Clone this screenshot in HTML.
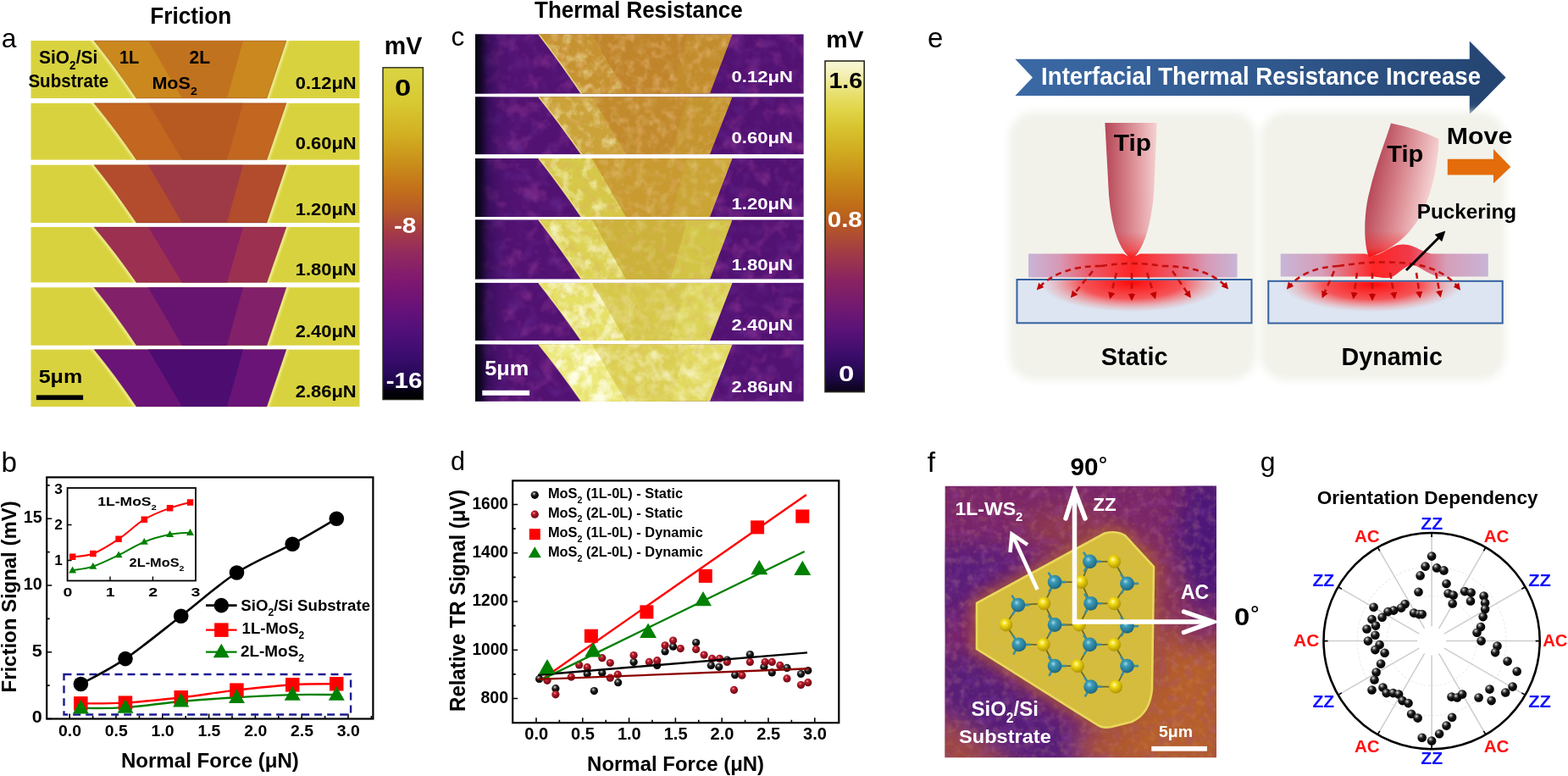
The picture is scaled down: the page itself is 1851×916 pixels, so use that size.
<!DOCTYPE html>
<html><head><meta charset="utf-8"><title>Figure</title>
<style>html,body{margin:0;padding:0;background:#fff;width:1851px;height:916px;overflow:hidden}svg{display:block}</style>
</head><body>
<svg width="1851" height="916" viewBox="0 0 1851 916" font-family="'Liberation Sans', Arial, sans-serif">
<defs>
<filter id="hblur" x="-10%" y="-10%" width="120%" height="120%"><feGaussianBlur stdDeviation="1.3"/></filter>
<clipPath id="ac0"><rect x="36.5" y="48" width="388.0" height="68"/></clipPath>
<clipPath id="ac1"><rect x="36.5" y="121.8" width="388.0" height="66.8"/></clipPath>
<clipPath id="ac2"><rect x="36.5" y="194.7" width="388.0" height="68.30000000000001"/></clipPath>
<clipPath id="ac3"><rect x="36.5" y="268" width="388.0" height="65.39999999999998"/></clipPath>
<clipPath id="ac4"><rect x="36.5" y="339.3" width="388.0" height="68.39999999999998"/></clipPath>
<clipPath id="ac5"><rect x="36.5" y="412.6" width="388.0" height="67.39999999999998"/></clipPath>
<linearGradient id="cba" x1="0" y1="0" x2="0" y2="1">
<stop offset="0" stop-color="#dad444"/><stop offset="0.10" stop-color="#d8ca32"/><stop offset="0.20" stop-color="#d2b022"/>
<stop offset="0.28" stop-color="#ca921a"/><stop offset="0.36" stop-color="#c4721a"/><stop offset="0.43" stop-color="#b85a28"/>
<stop offset="0.50" stop-color="#a43a48"/><stop offset="0.56" stop-color="#922a60"/><stop offset="0.64" stop-color="#801870"/>
<stop offset="0.715" stop-color="#6a1278"/><stop offset="0.79" stop-color="#52107a"/><stop offset="0.87" stop-color="#3a0c6e"/>
<stop offset="0.92" stop-color="#2a0a5a"/><stop offset="0.955" stop-color="#180640"/><stop offset="0.975" stop-color="#04020c"/>
<stop offset="1" stop-color="#000"/></linearGradient>
<linearGradient id="cleft" x1="0" y1="0" x2="1" y2="0">
<stop offset="0" stop-color="#06020e" stop-opacity="1"/><stop offset="0.02" stop-color="#0c0420" stop-opacity="0.85"/><stop offset="0.04" stop-color="#1a0840" stop-opacity="0.5"/><stop offset="0.08" stop-color="#2a0c58" stop-opacity="0.15"/><stop offset="0.13" stop-color="#3a1068" stop-opacity="0"/></linearGradient>
<filter id="nzY" x="0" y="0" width="1" height="1"><feTurbulence type="fractalNoise" baseFrequency="0.08" numOctaves="3" seed="4"/>
<feColorMatrix type="matrix" values="0 0 0 0 0.96  0 0 0 0 0.96  0 0 0 0 0.60  2.4 0 0 0 -1.15"/></filter>
<filter id="nzW" x="0" y="0" width="1" height="1"><feTurbulence type="fractalNoise" baseFrequency="0.06" numOctaves="3" seed="21"/>
<feColorMatrix type="matrix" values="0 0 0 0 0.99  0 0 0 0 0.99  0 0 0 0 0.80  3.5 0 0 0 -1.6"/></filter>
<filter id="nzO" x="0" y="0" width="1" height="1"><feTurbulence type="fractalNoise" baseFrequency="0.1" numOctaves="2" seed="9"/>
<feColorMatrix type="matrix" values="0 0 0 0 0.74  0 0 0 0 0.42  0 0 0 0 0.14  2.2 0 0 0 -1.05"/></filter>
<filter id="nzM" x="0" y="0" width="1" height="1"><feTurbulence type="fractalNoise" baseFrequency="0.05" numOctaves="3" seed="2"/>
<feColorMatrix type="matrix" values="0 0 0 0 0.50  0 0 0 0 0.08  0 0 0 0 0.40  1.6 0 0 0 -0.78"/></filter>
<filter id="nzD" x="0" y="0" width="1" height="1"><feTurbulence type="fractalNoise" baseFrequency="0.06" numOctaves="2" seed="13"/>
<feColorMatrix type="matrix" values="0 0 0 0 0.14  0 0 0 0 0.03  0 0 0 0 0.32  1.8 0 0 0 -0.85"/></filter>
<clipPath id="cm0"><path d="M636,40.5 Q660,71.5 686.4,110.5 L838,110.5 L864.5,40.5 Z"/></clipPath>
<clipPath id="cl0"><path d="M636,40.5 Q660,71.5 686.4,110.5 L739,110.5 L699,40.5 Z"/></clipPath>
<clipPath id="cs0"><rect x="561" y="40.5" width="387.6" height="70.0"/></clipPath>
<clipPath id="cm1"><path d="M636,114.4 Q660,144.25 686.4,182.1 L838,182.1 L864.5,114.4 Z"/></clipPath>
<clipPath id="cl1"><path d="M636,114.4 Q660,144.25 686.4,182.1 L739,182.1 L699,114.4 Z"/></clipPath>
<clipPath id="cs1"><rect x="561" y="114.4" width="387.6" height="67.69999999999999"/></clipPath>
<clipPath id="cm2"><path d="M636,187 Q660,217.5 686.4,256 L838,256 L864.5,187 Z"/></clipPath>
<clipPath id="cl2"><path d="M636,187 Q660,217.5 686.4,256 L739,256 L699,187 Z"/></clipPath>
<clipPath id="cs2"><rect x="561" y="187" width="387.6" height="69"/></clipPath>
<clipPath id="cm3"><path d="M636,259.5 Q660,290.45 686.4,329.4 L838,329.4 L864.5,259.5 Z"/></clipPath>
<clipPath id="cl3"><path d="M636,259.5 Q660,290.45 686.4,329.4 L739,329.4 L699,259.5 Z"/></clipPath>
<clipPath id="cs3"><rect x="561" y="259.5" width="387.6" height="69.89999999999998"/></clipPath>
<clipPath id="cm4"><path d="M636,333.9 Q660,363.95 686.4,402 L838,402 L864.5,333.9 Z"/></clipPath>
<clipPath id="cl4"><path d="M636,333.9 Q660,363.95 686.4,402 L739,402 L699,333.9 Z"/></clipPath>
<clipPath id="cs4"><rect x="561" y="333.9" width="387.6" height="68.10000000000002"/></clipPath>
<clipPath id="cm5"><path d="M636,406.6 Q660,436.15 686.4,473.7 L838,473.7 L864.5,406.6 Z"/></clipPath>
<clipPath id="cl5"><path d="M636,406.6 Q660,436.15 686.4,473.7 L739,473.7 L699,406.6 Z"/></clipPath>
<clipPath id="cs5"><rect x="561" y="406.6" width="387.6" height="67.09999999999997"/></clipPath>
<linearGradient id="cbc" x1="0" y1="0" x2="0" y2="1">
<stop offset="0" stop-color="#f8f6d8"/><stop offset="0.046" stop-color="#f2eeb0"/><stop offset="0.097" stop-color="#e8e070"/>
<stop offset="0.148" stop-color="#e0d448"/><stop offset="0.2" stop-color="#d8c430"/><stop offset="0.276" stop-color="#d0aa20"/>
<stop offset="0.353" stop-color="#c88c18"/><stop offset="0.43" stop-color="#c07018"/><stop offset="0.486" stop-color="#b85a20"/>
<stop offset="0.52" stop-color="#b05030"/><stop offset="0.584" stop-color="#a03a48"/><stop offset="0.66" stop-color="#8a2460"/>
<stop offset="0.737" stop-color="#741a70"/><stop offset="0.814" stop-color="#5a1278"/><stop offset="0.891" stop-color="#3a0c6a"/>
<stop offset="0.955" stop-color="#1e0848"/><stop offset="1" stop-color="#0a0418"/></linearGradient>
<linearGradient id="ban" x1="0" y1="0" x2="1" y2="0">
<stop offset="0" stop-color="#3b69a5"/><stop offset="0.5" stop-color="#31598e"/><stop offset="1" stop-color="#244470"/></linearGradient>
<filter id="soft" x="-10%" y="-10%" width="120%" height="120%"><feGaussianBlur stdDeviation="5"/></filter>
<linearGradient id="tipH" x1="0" y1="0" x2="1" y2="0">
<stop offset="0" stop-color="#b54656"/><stop offset="0.5" stop-color="#d98a92"/><stop offset="1" stop-color="#f5d2d2"/></linearGradient>
<linearGradient id="tipV" x1="0" y1="0" x2="0" y2="1">
<stop offset="0" stop-color="#ff1010" stop-opacity="0"/><stop offset="0.8" stop-color="#ff1010" stop-opacity="0.03"/><stop offset="0.93" stop-color="#ff1010" stop-opacity="0.45"/><stop offset="1" stop-color="#ff0000" stop-opacity="0.9"/></linearGradient>
<linearGradient id="tipH2" gradientUnits="userSpaceOnUse" x1="1620" y1="200" x2="1690" y2="215">
<stop offset="0" stop-color="#b54656"/><stop offset="0.5" stop-color="#d98a92"/><stop offset="1" stop-color="#f5d2d2"/></linearGradient>
<linearGradient id="slab" x1="0" y1="0" x2="1" y2="0">
<stop offset="0" stop-color="#c6b2d6"/><stop offset="0.15" stop-color="#d694b2"/><stop offset="0.3" stop-color="#ec5262"/><stop offset="0.5" stop-color="#ff1818"/><stop offset="0.7" stop-color="#ec5262"/><stop offset="0.85" stop-color="#d694b2"/><stop offset="1" stop-color="#c6b2d6"/></linearGradient>
<linearGradient id="slab2" x1="0" y1="0" x2="1" y2="0">
<stop offset="0" stop-color="#c6b2d6"/><stop offset="0.2" stop-color="#d49ab6"/><stop offset="0.45" stop-color="#ff1a1a"/><stop offset="0.62" stop-color="#f03040"/><stop offset="0.8" stop-color="#d49ab6"/><stop offset="1" stop-color="#c6b2d6"/></linearGradient>
<radialGradient id="glow" cx="0.5" cy="0.5" r="0.5">
<stop offset="0" stop-color="#ff0000" stop-opacity="0.95"/><stop offset="0.55" stop-color="#ff1c1c" stop-opacity="0.72"/><stop offset="0.85" stop-color="#ff4040" stop-opacity="0.22"/><stop offset="1" stop-color="#ff4040" stop-opacity="0"/></radialGradient>
<marker id="ah" viewBox="0 0 10 10" refX="6" refY="5" markerWidth="3.2" markerHeight="3.2" orient="auto"><path d="M0,0 L10,5 L0,10 Z" fill="#c00000"/></marker>
<marker id="ahk" viewBox="0 0 10 10" refX="6" refY="5" markerWidth="4" markerHeight="4" orient="auto"><path d="M0,0 L10,5 L0,10 Z" fill="#000"/></marker>
<clipPath id="subS"><rect x="1200.5" y="331" width="277" height="50"/></clipPath><clipPath id="subD"><rect x="1497.3" y="332.8" width="276.4" height="48.7"/></clipPath>
<radialGradient id="sb" cx="0.4" cy="0.33" r="0.7"><stop offset="0" stop-color="#f0f0f0"/><stop offset="0.2" stop-color="#666"/><stop offset="0.45" stop-color="#151515"/><stop offset="1" stop-color="#000"/></radialGradient>
<radialGradient id="sr" cx="0.4" cy="0.33" r="0.7"><stop offset="0" stop-color="#ffb4bc"/><stop offset="0.22" stop-color="#c42634"/><stop offset="0.55" stop-color="#961220"/><stop offset="1" stop-color="#620810"/></radialGradient>
<clipPath id="fclip"><rect x="1115.4" y="573.6" width="320.5999999999999" height="320.6"/></clipPath>
<filter id="fblur" x="-20%" y="-20%" width="140%" height="140%"><feGaussianBlur stdDeviation="14"/></filter>
<filter id="fblur2" x="-20%" y="-20%" width="140%" height="140%"><feGaussianBlur stdDeviation="7"/></filter>
<filter id="fnz" x="0" y="0" width="1" height="1"><feTurbulence type="fractalNoise" baseFrequency="0.09" numOctaves="3" seed="5"/>
<feColorMatrix type="matrix" values="0 0 0 0 0.35  0 0 0 0 0.08  0 0 0 0 0.45  1.8 0 0 0 -0.8"/></filter>
<filter id="fnz2" x="0" y="0" width="1" height="1"><feTurbulence type="fractalNoise" baseFrequency="0.12" numOctaves="2" seed="8"/>
<feColorMatrix type="matrix" values="0 0 0 0 0.75  0 0 0 0 0.38  0 0 0 0 0.2  1.6 0 0 0 -0.75"/></filter>
<filter id="fnz3" x="0" y="0" width="1" height="1"><feTurbulence type="fractalNoise" baseFrequency="0.1" numOctaves="3" seed="15"/>
<feColorMatrix type="matrix" values="0 0 0 0 0.62  0 0 0 0 0.52  0 0 0 0 0.12  2.0 0 0 0 -0.95"/></filter>
<clipPath id="flclip"><path d="M1153,712 L1304,629.5 Q1318,626 1328,632 L1362,669 L1360,812 Q1358,842 1336,852 L1312,858 Q1302,860 1296,856 L1153,766 Z"/></clipPath>
<radialGradient id="ab" cx="0.4" cy="0.35" r="0.65"><stop offset="0" stop-color="#9fd8e8"/><stop offset="0.3" stop-color="#3c9cb8"/><stop offset="1" stop-color="#1e6680"/></radialGradient>
<radialGradient id="ay" cx="0.4" cy="0.35" r="0.65"><stop offset="0" stop-color="#fffcc8"/><stop offset="0.3" stop-color="#f6de18"/><stop offset="1" stop-color="#b09400"/></radialGradient>
<radialGradient id="sg" cx="0.36" cy="0.3" r="0.72"><stop offset="0" stop-color="#f4f4f4"/><stop offset="0.18" stop-color="#777"/><stop offset="0.45" stop-color="#151515"/><stop offset="1" stop-color="#000"/></radialGradient>
</defs>
<rect width="1851" height="916" fill="#fff"/>
<rect x="36.5" y="48" width="388.0" height="68" fill="#d9d23f"/>
<path d="M111,48 Q137,80.0 161,116 L315,116 L338,48 Z" fill="none" stroke="#f6f4a0" stroke-width="6" stroke-opacity="0.75" filter="url(#hblur)" clip-path="url(#ac0)"/>
<path d="M111,48 Q137,80.0 161,116 L315,116 L338,48 Z" fill="#ca881e" stroke="#6a1020" stroke-width="0.8" stroke-opacity="0.35"/>
<path d="M175,48 L215,116 L268,116 L287,48 Z" fill="#c1721e"/>
<rect x="36.5" y="121.8" width="388.0" height="66.8" fill="#d9d23f"/>
<path d="M111,121.8 Q137,153.2 161,188.6 L315,188.6 L338,121.8 Z" fill="none" stroke="#f6f4a0" stroke-width="6" stroke-opacity="0.75" filter="url(#hblur)" clip-path="url(#ac1)"/>
<path d="M111,121.8 Q137,153.2 161,188.6 L315,188.6 L338,121.8 Z" fill="#c26620" stroke="#6a1020" stroke-width="0.8" stroke-opacity="0.35"/>
<path d="M175,121.8 L215,188.6 L268,188.6 L287,121.8 Z" fill="#b65a22"/>
<rect x="36.5" y="194.7" width="388.0" height="68.30000000000001" fill="#d9d23f"/>
<path d="M111,194.7 Q137,226.85 161,263 L315,263 L338,194.7 Z" fill="none" stroke="#f6f4a0" stroke-width="6" stroke-opacity="0.75" filter="url(#hblur)" clip-path="url(#ac2)"/>
<path d="M111,194.7 Q137,226.85 161,263 L315,263 L338,194.7 Z" fill="#b24c2c" stroke="#6a1020" stroke-width="0.8" stroke-opacity="0.35"/>
<path d="M175,194.7 L215,263 L268,263 L287,194.7 Z" fill="#9e3a46"/>
<rect x="36.5" y="268" width="388.0" height="65.39999999999998" fill="#d9d23f"/>
<path d="M111,268 Q137,298.7 161,333.4 L315,333.4 L338,268 Z" fill="none" stroke="#f6f4a0" stroke-width="6" stroke-opacity="0.75" filter="url(#hblur)" clip-path="url(#ac3)"/>
<path d="M111,268 Q137,298.7 161,333.4 L315,333.4 L338,268 Z" fill="#9c3050" stroke="#6a1020" stroke-width="0.8" stroke-opacity="0.35"/>
<path d="M175,268 L215,333.4 L268,333.4 L287,268 Z" fill="#862062"/>
<rect x="36.5" y="339.3" width="388.0" height="68.39999999999998" fill="#d9d23f"/>
<path d="M111,339.3 Q137,371.5 161,407.7 L315,407.7 L338,339.3 Z" fill="none" stroke="#f6f4a0" stroke-width="6" stroke-opacity="0.75" filter="url(#hblur)" clip-path="url(#ac4)"/>
<path d="M111,339.3 Q137,371.5 161,407.7 L315,407.7 L338,339.3 Z" fill="#82206a" stroke="#6a1020" stroke-width="0.8" stroke-opacity="0.35"/>
<path d="M175,339.3 L215,407.7 L268,407.7 L287,339.3 Z" fill="#661470"/>
<rect x="36.5" y="412.6" width="388.0" height="67.39999999999998" fill="#d9d23f"/>
<path d="M111,412.6 Q137,444.3 161,480 L315,480 L338,412.6 Z" fill="none" stroke="#f6f4a0" stroke-width="6" stroke-opacity="0.75" filter="url(#hblur)" clip-path="url(#ac5)"/>
<path d="M111,412.6 Q137,444.3 161,480 L315,480 L338,412.6 Z" fill="#6a1478" stroke="#6a1020" stroke-width="0.8" stroke-opacity="0.35"/>
<path d="M175,412.6 L215,480 L268,480 L287,412.6 Z" fill="#4c0c70"/>
<text x="348.8" y="105.1" font-size="20.7" font-weight="bold" fill="#000" text-anchor="start" textLength="71.9" lengthAdjust="spacingAndGlyphs">0.12μN</text>
<text x="348.8" y="176.4" font-size="20.7" font-weight="bold" fill="#000" text-anchor="start" textLength="71.9" lengthAdjust="spacingAndGlyphs">0.60μN</text>
<text x="348.8" y="254.1" font-size="20.7" font-weight="bold" fill="#000" text-anchor="start" textLength="71.9" lengthAdjust="spacingAndGlyphs">1.20μN</text>
<text x="348.8" y="325.2" font-size="20.7" font-weight="bold" fill="#000" text-anchor="start" textLength="71.9" lengthAdjust="spacingAndGlyphs">1.80μN</text>
<text x="348.8" y="397.9" font-size="20.7" font-weight="bold" fill="#000" text-anchor="start" textLength="71.9" lengthAdjust="spacingAndGlyphs">2.40μN</text>
<text x="348.8" y="469.4" font-size="20.7" font-weight="bold" fill="#000" text-anchor="start" textLength="71.9" lengthAdjust="spacingAndGlyphs">2.86μN</text>
<text x="46.1" y="75.0" font-size="21.6" font-weight="bold" fill="#000" text-anchor="start" textLength="69.1" lengthAdjust="spacingAndGlyphs">SiO<tspan font-size="14.0" dy="7.1">2</tspan><tspan dy="-7.1">/Si</tspan></text>
<text x="33.4" y="102.9" font-size="21.3" font-weight="bold" fill="#000" text-anchor="start" textLength="94.9" lengthAdjust="spacingAndGlyphs">Substrate</text>
<text x="141.0" y="75.2" font-size="21.2" font-weight="bold" fill="#000" text-anchor="start" textLength="23.3" lengthAdjust="spacingAndGlyphs">1L</text>
<text x="223.6" y="75.2" font-size="21.2" font-weight="bold" fill="#000" text-anchor="start" textLength="24.5" lengthAdjust="spacingAndGlyphs">2L</text>
<text x="179.4" y="105.4" font-size="20.6" font-weight="bold" fill="#000" text-anchor="start" textLength="53.4" lengthAdjust="spacingAndGlyphs">MoS<tspan font-size="13.4" dy="6.8">2</tspan></text>
<text x="45.7" y="451.7" font-size="22.5" font-weight="bold" fill="#000" text-anchor="start" textLength="51.5" lengthAdjust="spacingAndGlyphs">5μm</text>
<rect x="42.9" y="466.4" width="55.2" height="5.7" fill="#000"/>
<text x="177.3" y="28.2" font-size="26.8" font-weight="bold" fill="#000" text-anchor="start" textLength="95.9" lengthAdjust="spacingAndGlyphs">Friction</text>
<text x="1.8" y="55.5" font-size="31.8" font-weight="normal" fill="#000">a</text>
<rect x="452" y="79.8" width="47.4" height="391.8" fill="url(#cba)" stroke="#2a2a1a" stroke-width="1.4"/>
<text x="453.8" y="64.0" font-size="28.6" font-weight="bold" fill="#000" text-anchor="start" textLength="44.5" lengthAdjust="spacingAndGlyphs">mV</text>
<text x="466.1" y="112.7" font-size="27.1" font-weight="bold" fill="#000" text-anchor="start" textLength="19.3" lengthAdjust="spacingAndGlyphs">0</text>
<text x="464.9" y="275.4" font-size="26.4" font-weight="bold" fill="#fff" text-anchor="start" textLength="26.5" lengthAdjust="spacingAndGlyphs">-8</text>
<text x="455.7" y="457.6" font-size="26.5" font-weight="bold" fill="#fff" text-anchor="start" textLength="42.8" lengthAdjust="spacingAndGlyphs">-16</text>
<rect x="561" y="40.5" width="387.6" height="70.0" fill="#521272"/>
<g clip-path="url(#cs0)"><rect x="561" y="40.5" width="387.6" height="70.0" filter="url(#nzM)" opacity="0.65"/><rect x="561" y="40.5" width="387.6" height="70.0" filter="url(#nzD)" opacity="0.6"/></g>
<rect x="561" y="40.5" width="387.6" height="70.0" fill="url(#cleft)"/>
<path d="M636,40.5 Q660,71.5 686.4,110.5 L838,110.5 L864.5,40.5 Z" fill="#c28c2c"/>
<path d="M636,40.5 Q660,71.5 686.4,110.5 L739,110.5 L699,40.5 Z" fill="#c69230"/>
<path d="M699,40.5 L739,110.5 L792,110.5 L811,40.5 Z" fill="#c0842a"/>
<g clip-path="url(#cm0)"><rect x="630" y="40.5" width="240" height="70.0" filter="url(#nzO)" opacity="0.90"/><rect x="630" y="40.5" width="240" height="70.0" filter="url(#nzY)" opacity="0.15"/></g>
<g clip-path="url(#cl0)"><rect x="630" y="40.5" width="120" height="70.0" filter="url(#nzY)" opacity="0.45"/></g>
<path d="M636,40.5 Q660,71.5 686.4,110.5" fill="none" stroke="#f4ec90" stroke-width="1.6" opacity="0.8"/>
<rect x="561" y="114.4" width="387.6" height="67.69999999999999" fill="#521272"/>
<g clip-path="url(#cs1)"><rect x="561" y="114.4" width="387.6" height="67.69999999999999" filter="url(#nzM)" opacity="0.65"/><rect x="561" y="114.4" width="387.6" height="67.69999999999999" filter="url(#nzD)" opacity="0.6"/></g>
<rect x="561" y="114.4" width="387.6" height="67.69999999999999" fill="url(#cleft)"/>
<path d="M636,114.4 Q660,144.25 686.4,182.1 L838,182.1 L864.5,114.4 Z" fill="#c4942e"/>
<path d="M636,114.4 Q660,144.25 686.4,182.1 L739,182.1 L699,114.4 Z" fill="#caa238"/>
<path d="M699,114.4 L739,182.1 L792,182.1 L811,114.4 Z" fill="#c28a2c"/>
<g clip-path="url(#cm1)"><rect x="630" y="114.4" width="240" height="67.69999999999999" filter="url(#nzO)" opacity="0.78"/><rect x="630" y="114.4" width="240" height="67.69999999999999" filter="url(#nzY)" opacity="0.20"/></g>
<g clip-path="url(#cl1)"><rect x="630" y="114.4" width="120" height="67.69999999999999" filter="url(#nzY)" opacity="0.53"/></g>
<path d="M636,114.4 Q660,144.25 686.4,182.1" fill="none" stroke="#f4ec90" stroke-width="1.6" opacity="0.8"/>
<rect x="561" y="187" width="387.6" height="69" fill="#521272"/>
<g clip-path="url(#cs2)"><rect x="561" y="187" width="387.6" height="69" filter="url(#nzM)" opacity="0.65"/><rect x="561" y="187" width="387.6" height="69" filter="url(#nzD)" opacity="0.6"/></g>
<rect x="561" y="187" width="387.6" height="69" fill="url(#cleft)"/>
<path d="M636,187 Q660,217.5 686.4,256 L838,256 L864.5,187 Z" fill="#caa434"/>
<path d="M636,187 Q660,217.5 686.4,256 L739,256 L699,187 Z" fill="#d6c848"/>
<path d="M699,187 L739,256 L792,256 L811,187 Z" fill="#c89a30"/>
<g clip-path="url(#cm2)"><rect x="630" y="187" width="240" height="69" filter="url(#nzO)" opacity="0.66"/><rect x="630" y="187" width="240" height="69" filter="url(#nzY)" opacity="0.25"/></g>
<g clip-path="url(#cl2)"><rect x="630" y="187" width="120" height="69" filter="url(#nzY)" opacity="0.61"/></g>
<path d="M636,187 Q660,217.5 686.4,256" fill="none" stroke="#f4ec90" stroke-width="1.6" opacity="0.8"/>
<rect x="561" y="259.5" width="387.6" height="69.89999999999998" fill="#521272"/>
<g clip-path="url(#cs3)"><rect x="561" y="259.5" width="387.6" height="69.89999999999998" filter="url(#nzM)" opacity="0.65"/><rect x="561" y="259.5" width="387.6" height="69.89999999999998" filter="url(#nzD)" opacity="0.6"/></g>
<rect x="561" y="259.5" width="387.6" height="69.89999999999998" fill="url(#cleft)"/>
<path d="M636,259.5 Q660,290.45 686.4,329.4 L838,329.4 L864.5,259.5 Z" fill="#d2c444"/>
<path d="M636,259.5 Q660,290.45 686.4,329.4 L739,329.4 L699,259.5 Z" fill="#dcd252"/>
<path d="M699,259.5 L739,329.4 L792,329.4 L811,259.5 Z" fill="#ccb23a"/>
<g clip-path="url(#cm3)"><rect x="630" y="259.5" width="240" height="69.89999999999998" filter="url(#nzO)" opacity="0.54"/><rect x="630" y="259.5" width="240" height="69.89999999999998" filter="url(#nzY)" opacity="0.30"/></g>
<g clip-path="url(#cl3)"><rect x="630" y="259.5" width="120" height="69.89999999999998" filter="url(#nzY)" opacity="0.69"/></g>
<g clip-path="url(#cl3)"><rect x="630" y="259.5" width="120" height="69.89999999999998" filter="url(#nzW)" opacity="0.30"/></g>
<path d="M636,259.5 Q660,290.45 686.4,329.4" fill="none" stroke="#f4ec90" stroke-width="1.6" opacity="0.8"/>
<rect x="561" y="333.9" width="387.6" height="68.10000000000002" fill="#521272"/>
<g clip-path="url(#cs4)"><rect x="561" y="333.9" width="387.6" height="68.10000000000002" filter="url(#nzM)" opacity="0.65"/><rect x="561" y="333.9" width="387.6" height="68.10000000000002" filter="url(#nzD)" opacity="0.6"/></g>
<rect x="561" y="333.9" width="387.6" height="68.10000000000002" fill="url(#cleft)"/>
<path d="M636,333.9 Q660,363.95 686.4,402 L838,402 L864.5,333.9 Z" fill="#dcd456"/>
<path d="M636,333.9 Q660,363.95 686.4,402 L739,402 L699,333.9 Z" fill="#e6e066"/>
<path d="M699,333.9 L739,402 L792,402 L811,333.9 Z" fill="#d6c84a"/>
<g clip-path="url(#cm4)"><rect x="630" y="333.9" width="240" height="68.10000000000002" filter="url(#nzO)" opacity="0.42"/><rect x="630" y="333.9" width="240" height="68.10000000000002" filter="url(#nzY)" opacity="0.35"/></g>
<g clip-path="url(#cl4)"><rect x="630" y="333.9" width="120" height="68.10000000000002" filter="url(#nzY)" opacity="0.77"/></g>
<g clip-path="url(#cl4)"><rect x="630" y="333.9" width="120" height="68.10000000000002" filter="url(#nzW)" opacity="0.60"/></g>
<g clip-path="url(#cm4)"><rect x="630" y="333.9" width="240" height="68.10000000000002" filter="url(#nzW)" opacity="0.25"/></g>
<path d="M636,333.9 Q660,363.95 686.4,402" fill="none" stroke="#f4ec90" stroke-width="1.6" opacity="0.8"/>
<rect x="561" y="406.6" width="387.6" height="67.09999999999997" fill="#521272"/>
<g clip-path="url(#cs5)"><rect x="561" y="406.6" width="387.6" height="67.09999999999997" filter="url(#nzM)" opacity="0.65"/><rect x="561" y="406.6" width="387.6" height="67.09999999999997" filter="url(#nzD)" opacity="0.6"/></g>
<rect x="561" y="406.6" width="387.6" height="67.09999999999997" fill="url(#cleft)"/>
<path d="M636,406.6 Q660,436.15 686.4,473.7 L838,473.7 L864.5,406.6 Z" fill="#e2da60"/>
<path d="M636,406.6 Q660,436.15 686.4,473.7 L739,473.7 L699,406.6 Z" fill="#ecea7a"/>
<path d="M699,406.6 L739,473.7 L792,473.7 L811,406.6 Z" fill="#dcd054"/>
<g clip-path="url(#cm5)"><rect x="630" y="406.6" width="240" height="67.09999999999997" filter="url(#nzO)" opacity="0.30"/><rect x="630" y="406.6" width="240" height="67.09999999999997" filter="url(#nzY)" opacity="0.40"/></g>
<g clip-path="url(#cl5)"><rect x="630" y="406.6" width="120" height="67.09999999999997" filter="url(#nzY)" opacity="0.85"/></g>
<g clip-path="url(#cl5)"><rect x="630" y="406.6" width="120" height="67.09999999999997" filter="url(#nzW)" opacity="0.90"/></g>
<g clip-path="url(#cm5)"><rect x="630" y="406.6" width="240" height="67.09999999999997" filter="url(#nzW)" opacity="0.50"/></g>
<path d="M636,406.6 Q660,436.15 686.4,473.7" fill="none" stroke="#f4ec90" stroke-width="1.6" opacity="0.8"/>
<text x="863.5" y="96.6" font-size="18.6" font-weight="bold" fill="#fff" text-anchor="start" textLength="72.6" lengthAdjust="spacingAndGlyphs">0.12μN</text>
<text x="863.5" y="168.9" font-size="18.0" font-weight="bold" fill="#fff" text-anchor="start" textLength="72.5" lengthAdjust="spacingAndGlyphs">0.60μN</text>
<text x="863.5" y="247.0" font-size="18.6" font-weight="bold" fill="#fff" text-anchor="start" textLength="72.6" lengthAdjust="spacingAndGlyphs">1.20μN</text>
<text x="863.5" y="318.6" font-size="18.6" font-weight="bold" fill="#fff" text-anchor="start" textLength="72.6" lengthAdjust="spacingAndGlyphs">1.80μN</text>
<text x="863.5" y="390.3" font-size="18.6" font-weight="bold" fill="#fff" text-anchor="start" textLength="72.6" lengthAdjust="spacingAndGlyphs">2.40μN</text>
<text x="863.5" y="463.0" font-size="18.6" font-weight="bold" fill="#fff" text-anchor="start" textLength="72.6" lengthAdjust="spacingAndGlyphs">2.86μN</text>
<text x="572.3" y="443.1" font-size="23.5" font-weight="bold" fill="#fff" text-anchor="start" textLength="52.0" lengthAdjust="spacingAndGlyphs">5μm</text>
<rect x="569.3" y="460.8" width="55.8" height="6" fill="#fff"/>
<text x="631.0" y="21.1" font-size="27.4" font-weight="bold" fill="#000" text-anchor="start" textLength="245.7" lengthAdjust="spacingAndGlyphs">Thermal Resistance</text>
<text x="532.5" y="54.2" font-size="31.5" font-weight="normal" fill="#000">c</text>
<rect x="974" y="72" width="46.2" height="390.6" fill="url(#cbc)" stroke="#2a2a1a" stroke-width="1.6"/>
<text x="975.3" y="56.1" font-size="27.1" font-weight="bold" fill="#000" text-anchor="start" textLength="44.3" lengthAdjust="spacingAndGlyphs">mV</text>
<text x="978.4" y="103.7" font-size="26.2" font-weight="bold" fill="#000" text-anchor="start" textLength="39.7" lengthAdjust="spacingAndGlyphs">1.6</text>
<text x="976.7" y="268.3" font-size="26.5" font-weight="bold" fill="#fff" text-anchor="start" textLength="41.1" lengthAdjust="spacingAndGlyphs">0.8</text>
<text x="990.1" y="450.2" font-size="26.4" font-weight="bold" fill="#fff" text-anchor="start" textLength="18.4" lengthAdjust="spacingAndGlyphs">0</text>
<text x="1094.9" y="55.6" font-size="33.0" font-weight="normal" fill="#000">e</text>
<path d="M1198.4,69.7 L1734.8,69.7 L1734.8,48.6 L1777.6,91.6 L1734.8,135 L1734.8,113 L1198.4,113 L1219,91.4 Z" fill="url(#ban)"/>
<text x="1229.1" y="99.5" font-size="29.1" font-weight="bold" fill="#fff" text-anchor="start" textLength="518.9" lengthAdjust="spacingAndGlyphs">Interfacial Thermal Resistance Increase</text>
<rect x="1191" y="132" width="292" height="317" rx="30" fill="#f2f2eb" filter="url(#soft)"/>
<rect x="1488" y="132" width="289" height="317" rx="30" fill="#f2f2eb" filter="url(#soft)"/>
<rect x="1200.5" y="330" width="277" height="51.3" fill="#dce5f1" stroke="#3560a0" stroke-width="2"/>
<ellipse cx="1336" cy="334" rx="108" ry="34" fill="url(#glow)" clip-path="url(#subS)"/>
<path d="M1214,299.5 L1326,299.5 Q1336,306 1346,299.5 L1460.5,299.5 L1460.5,327.5 L1214,327.5 Z" fill="url(#slab)" opacity="0.95"/>
<path d="M1304.4,145 L1365.7,145 L1362,230 Q1356,290 1336,306 Q1314,290 1309,230 Z" fill="url(#tipH)"/>
<path d="M1304.4,145 L1365.7,145 L1362,230 Q1356,290 1336,306 Q1314,290 1309,230 Z" fill="url(#tipV)"/>
<path d="M1300,314 Q1250,314 1226,340" stroke="#c41010" stroke-width="2.6" stroke-dasharray="7,5" fill="none" marker-end="url(#ah)"/>
<path d="M1372,314 Q1425,314 1448,339" stroke="#c41010" stroke-width="2.6" stroke-dasharray="7,5" fill="none" marker-end="url(#ah)"/>
<path d="M1300,314 Q1336,308 1372,314" stroke="#c41010" stroke-width="2.6" stroke-dasharray="7,5" fill="none"/>
<path d="M1290,320 L1266,349" stroke="#c41010" stroke-width="2.6" stroke-dasharray="7,5" fill="none" marker-end="url(#ah)"/>
<path d="M1318,322 L1311,350" stroke="#c41010" stroke-width="2.6" stroke-dasharray="7,5" fill="none" marker-end="url(#ah)"/>
<path d="M1336,322 L1336,352" stroke="#c41010" stroke-width="2.6" stroke-dasharray="7,5" fill="none" marker-end="url(#ah)"/>
<path d="M1354,322 L1363,350" stroke="#c41010" stroke-width="2.6" stroke-dasharray="7,5" fill="none" marker-end="url(#ah)"/>
<path d="M1384,320 L1404,349" stroke="#c41010" stroke-width="2.6" stroke-dasharray="7,5" fill="none" marker-end="url(#ah)"/>
<text x="1314.8" y="177.5" font-size="27.8" font-weight="bold" fill="#000" text-anchor="start" textLength="44.2" lengthAdjust="spacingAndGlyphs">Tip</text>
<text x="1299.8" y="430.6" font-size="29.6" font-weight="bold" fill="#000" text-anchor="start" textLength="78.7" lengthAdjust="spacingAndGlyphs">Static</text>
<rect x="1497.3" y="331.8" width="276.4" height="49.7" fill="#dce5f1" stroke="#3560a0" stroke-width="2"/>
<ellipse cx="1620" cy="336" rx="106" ry="32" fill="url(#glow)" clip-path="url(#subD)"/>
<path d="M1511.7,299.5 L1612,299.5 Q1622,304 1632,298 C1645,290 1652,287 1662,289 C1672,291 1680,298 1690,299.5 L1756.8,299.5 L1756.8,326.4 L1700,326.4 C1690,326 1680,318 1672,314 C1662,310 1655,320 1645,326 C1638,330 1630,327 1622,326.4 L1511.7,326.4 Z" fill="url(#slab2)" opacity="0.95"/>
<path d="M1642,145.5 Q1671,151 1698.5,164 C1697,205 1686,245 1668,268 C1655,285 1636,298 1616,303.5 C1609,285 1610,250 1617,225 C1624,195 1636,165 1642,145.5 Z" fill="url(#tipH2)"/>
<path d="M1642,145.5 Q1671,151 1698.5,164 C1697,205 1686,245 1668,268 C1655,285 1636,298 1616,303.5 C1609,285 1610,250 1617,225 C1624,195 1636,165 1642,145.5 Z" fill="url(#tipV)"/>
<path d="M1580,314 Q1540,316 1521,339" stroke="#c41010" stroke-width="2.6" stroke-dasharray="7,5" fill="none" marker-end="url(#ah)"/>
<path d="M1580,314 Q1630,306 1670,312 Q1705,318 1722,340" stroke="#c41010" stroke-width="2.6" stroke-dasharray="7,5" fill="none" marker-end="url(#ah)"/>
<path d="M1575,320 L1562,349" stroke="#c41010" stroke-width="2.6" stroke-dasharray="7,5" fill="none" marker-end="url(#ah)"/>
<path d="M1602,322 L1598,350" stroke="#c41010" stroke-width="2.6" stroke-dasharray="7,5" fill="none" marker-end="url(#ah)"/>
<path d="M1620,322 L1620,352" stroke="#c41010" stroke-width="2.6" stroke-dasharray="7,5" fill="none" marker-end="url(#ah)"/>
<path d="M1641,322 L1646,350" stroke="#c41010" stroke-width="2.6" stroke-dasharray="7,5" fill="none" marker-end="url(#ah)"/>
<path d="M1672,322 L1676,349" stroke="#c41010" stroke-width="2.6" stroke-dasharray="7,5" fill="none" marker-end="url(#ah)"/>
<path d="M1695,322 L1700,348" stroke="#c41010" stroke-width="2.6" stroke-dasharray="7,5" fill="none" marker-end="url(#ah)"/>
<path d="M1660,319 L1703,276" stroke="#000" stroke-width="3" marker-end="url(#ahk)"/>
<path d="M1708.8,187.7 L1763,187.7 L1763,176 L1783.4,197 L1763,216.5 L1763,206.4 L1708.8,206.4 Z" fill="#e46c0a"/>
<text x="1637.2" y="191.4" font-size="27.5" font-weight="bold" fill="#000" text-anchor="start" textLength="43.0" lengthAdjust="spacingAndGlyphs">Tip</text>
<text x="1707.7" y="170.3" font-size="28.3" font-weight="bold" fill="#000" text-anchor="start" textLength="77.6" lengthAdjust="spacingAndGlyphs">Move</text>
<text x="1672.8" y="257.6" font-size="24.6" font-weight="bold" fill="#000" text-anchor="start" textLength="117.4" lengthAdjust="spacingAndGlyphs">Puckering</text>
<text x="1583.5" y="430.6" font-size="29.6" font-weight="bold" fill="#000" text-anchor="start" textLength="119.5" lengthAdjust="spacingAndGlyphs">Dynamic</text>
<text x="1.6" y="556.5" font-size="33.3" font-weight="normal" fill="#000">b</text>
<path d="M82.2,848.5 V842.5 M109.6,848.5 V845.0 M137.0,848.5 V842.5 M164.4,848.5 V845.0 M191.8,848.5 V842.5 M219.2,848.5 V845.0 M246.6,848.5 V842.5 M274.0,848.5 V845.0 M301.4,848.5 V842.5 M328.8,848.5 V845.0 M356.2,848.5 V842.5 M383.6,848.5 V845.0 M411.0,848.5 V842.5 M438.4,848.5 V845.0 M55.2,848.5 H61.2 M55.2,809.1 H58.7 M55.2,769.8 H61.2 M55.2,730.4 H58.7 M55.2,691.0 H61.2 M55.2,651.6 H58.7 M55.2,612.2 H61.2 M55.2,572.9 H58.7" stroke="#000" stroke-width="1.6" fill="none"/>
<rect x="75.5" y="796" width="338.6" height="47.5" fill="none" stroke="#1c1c90" stroke-width="2.4" stroke-dasharray="9,6"/>
<path d="M95.4,830.4 C104.1,830.3 128.2,830.8 148.0,829.6 C167.7,828.4 191.8,825.8 213.7,823.3 C235.6,820.8 257.6,817.1 279.5,814.6 C301.4,812.1 325.6,809.6 345.2,808.3 C364.9,807.1 388.6,807.4 397.3,807.2" stroke="#ff0000" stroke-width="2.4" fill="none"/>
<path d="M95.4,835.9 C104.1,835.8 128.2,836.4 148.0,835.1 C167.7,833.8 191.8,830.0 213.7,828.0 C235.6,826.1 257.6,824.6 279.5,823.3 C301.4,822.0 325.6,820.7 345.2,820.1 C364.9,819.6 388.6,820.1 397.3,820.1" stroke="#008000" stroke-width="2.4" fill="none"/>
<path d="M95.4,807.5 C104.1,802.6 128.2,791.0 148.0,777.6 C167.7,764.2 191.8,744.2 213.7,727.2 C235.6,710.3 257.6,690.2 279.5,676.0 C301.4,661.9 325.6,652.8 345.2,642.2 C364.9,631.5 388.6,617.2 397.3,612.2" stroke="#000" stroke-width="2.6" fill="none"/>
<circle cx="95.4" cy="807.5" r="8.8" fill="#000"/>
<circle cx="148.0" cy="777.6" r="8.8" fill="#000"/>
<circle cx="213.7" cy="727.2" r="8.8" fill="#000"/>
<circle cx="279.5" cy="676.0" r="8.8" fill="#000"/>
<circle cx="345.2" cy="642.2" r="8.8" fill="#000"/>
<circle cx="397.3" cy="612.2" r="8.8" fill="#000"/>
<rect x="87.1" y="822.1" width="16.5" height="16.5" fill="#ff0000"/>
<rect x="139.7" y="821.4" width="16.5" height="16.5" fill="#ff0000"/>
<rect x="205.5" y="815.0" width="16.5" height="16.5" fill="#ff0000"/>
<rect x="271.2" y="806.4" width="16.5" height="16.5" fill="#ff0000"/>
<rect x="337.0" y="800.1" width="16.5" height="16.5" fill="#ff0000"/>
<rect x="389.0" y="799.0" width="16.5" height="16.5" fill="#ff0000"/>
<path d="M95.4,826.0 L104.9,842.5 L85.9,842.5 Z" fill="#008000"/>
<path d="M148.0,825.2 L157.5,841.7 L138.5,841.7 Z" fill="#008000"/>
<path d="M213.7,818.1 L223.2,834.6 L204.2,834.6 Z" fill="#008000"/>
<path d="M279.5,813.4 L289.0,829.9 L270.0,829.9 Z" fill="#008000"/>
<path d="M345.2,810.2 L354.7,826.8 L335.7,826.8 Z" fill="#008000"/>
<path d="M397.3,810.2 L406.8,826.8 L387.8,826.8 Z" fill="#008000"/>
<rect x="55.2" y="563.4" width="385.2" height="285.1" fill="none" stroke="#000" stroke-width="2.2"/>
<text x="69.0" y="869.0" font-size="18.8" font-weight="bold" fill="#000" text-anchor="start" textLength="27.0" lengthAdjust="spacingAndGlyphs">0.0</text>
<text x="123.8" y="869.0" font-size="18.8" font-weight="bold" fill="#000" text-anchor="start" textLength="27.0" lengthAdjust="spacingAndGlyphs">0.5</text>
<text x="178.6" y="869.0" font-size="18.8" font-weight="bold" fill="#000" text-anchor="start" textLength="27.0" lengthAdjust="spacingAndGlyphs">1.0</text>
<text x="233.4" y="869.0" font-size="18.8" font-weight="bold" fill="#000" text-anchor="start" textLength="27.0" lengthAdjust="spacingAndGlyphs">1.5</text>
<text x="288.2" y="869.0" font-size="18.8" font-weight="bold" fill="#000" text-anchor="start" textLength="27.0" lengthAdjust="spacingAndGlyphs">2.0</text>
<text x="343.0" y="869.0" font-size="18.8" font-weight="bold" fill="#000" text-anchor="start" textLength="27.0" lengthAdjust="spacingAndGlyphs">2.5</text>
<text x="397.8" y="869.0" font-size="18.8" font-weight="bold" fill="#000" text-anchor="start" textLength="27.0" lengthAdjust="spacingAndGlyphs">3.0</text>
<text x="37.7" y="853.2" font-size="19.3" font-weight="bold" fill="#000" text-anchor="start" textLength="12.0" lengthAdjust="spacingAndGlyphs">0</text>
<text x="37.7" y="774.5" font-size="19.3" font-weight="bold" fill="#000" text-anchor="start" textLength="12.0" lengthAdjust="spacingAndGlyphs">5</text>
<text x="27.7" y="695.7" font-size="19.3" font-weight="bold" fill="#000" text-anchor="start" textLength="22.0" lengthAdjust="spacingAndGlyphs">10</text>
<text x="27.7" y="617.0" font-size="19.3" font-weight="bold" fill="#000" text-anchor="start" textLength="22.0" lengthAdjust="spacingAndGlyphs">15</text>
<text x="142.9" y="906.0" font-size="24.5" font-weight="bold" fill="#000" text-anchor="start" textLength="210.0" lengthAdjust="spacingAndGlyphs">Normal Force (μN)</text>
<g transform="translate(18.7,816.3) rotate(-90)">
<text x="-1.2" y="0.0" font-size="24.8" font-weight="bold" fill="#000" text-anchor="start" textLength="226.1" lengthAdjust="spacingAndGlyphs">Friction Signal (mV)</text>
</g>
<path d="M243,714.6 H279.6" stroke="#000" stroke-width="2.6"/>
<circle cx="261.3" cy="714.6" r="8.8" fill="#000"/>
<path d="M243,743.6 H279.6" stroke="#ff0000" stroke-width="2.4"/>
<rect x="253.1" y="735.4" width="16.5" height="16.5" fill="#ff0000"/>
<path d="M243,769.6 H279.6" stroke="#008000" stroke-width="2.4"/>
<path d="M261.3,759.7 L270.8,776.2 L251.8,776.2 Z" fill="#008000"/>
<text x="284.3" y="720.5" font-size="18.7" font-weight="bold" fill="#000" text-anchor="start" textLength="152.7" lengthAdjust="spacingAndGlyphs">SiO<tspan font-size="12.2" dy="6.2">2</tspan><tspan dy="-6.2">/Si Substrate</tspan></text>
<text x="285.6" y="748.0" font-size="18.8" font-weight="bold" fill="#000" text-anchor="start" textLength="73.6" lengthAdjust="spacingAndGlyphs">1L-MoS<tspan font-size="12.2" dy="6.2">2</tspan></text>
<text x="283.9" y="774.7" font-size="18.8" font-weight="bold" fill="#000" text-anchor="start" textLength="75.3" lengthAdjust="spacingAndGlyphs">2L-MoS<tspan font-size="12.2" dy="6.2">2</tspan></text>
<rect x="79.6" y="576" width="151.4" height="109.5" fill="#fff" stroke="#000" stroke-width="1.8"/>
<path d="M130.0,685.5 V680.5 M180.4,685.5 V680.5 M79.6,661.5 H84.6 M79.6,619.5 H84.6" stroke="#000" stroke-width="1.4" fill="none"/>
<path d="M85.6,657.3 C89.7,656.7 100.8,657.0 109.8,653.5 C118.9,650.0 130.0,643.0 140.1,636.3 C150.2,629.6 160.2,619.3 170.3,613.2 C180.4,607.1 191.5,603.1 200.6,599.8 C209.6,596.4 220.5,594.2 224.5,593.0" stroke="#ff0000" stroke-width="2" fill="none"/>
<path d="M85.6,673.3 C89.7,672.5 100.8,671.6 109.8,668.6 C118.9,665.6 130.0,660.0 140.1,655.2 C150.2,650.4 160.2,643.7 170.3,639.7 C180.4,635.6 191.5,632.7 200.6,630.8 C209.6,629.0 220.5,629.1 224.5,628.7" stroke="#008000" stroke-width="2" fill="none"/>
<rect x="81.9" y="653.5" width="7.5" height="7.5" fill="#ff0000"/>
<rect x="106.1" y="649.8" width="7.5" height="7.5" fill="#ff0000"/>
<rect x="136.3" y="632.5" width="7.5" height="7.5" fill="#ff0000"/>
<rect x="166.6" y="609.5" width="7.5" height="7.5" fill="#ff0000"/>
<rect x="196.8" y="596.0" width="7.5" height="7.5" fill="#ff0000"/>
<rect x="220.8" y="589.3" width="7.5" height="7.5" fill="#ff0000"/>
<path d="M85.6,668.6 L90.1,676.4 L81.1,676.4 Z" fill="#008000"/>
<path d="M109.8,663.9 L114.3,671.8 L105.3,671.8 Z" fill="#008000"/>
<path d="M140.1,650.5 L144.6,658.3 L135.6,658.3 Z" fill="#008000"/>
<path d="M170.3,635.0 L174.8,642.8 L165.8,642.8 Z" fill="#008000"/>
<path d="M200.6,626.1 L205.1,634.0 L196.1,634.0 Z" fill="#008000"/>
<path d="M224.5,624.0 L229.0,631.9 L220.0,631.9 Z" fill="#008000"/>
<text x="74.4" y="703.6" font-size="14.9" font-weight="bold" fill="#000" text-anchor="start" textLength="10.9" lengthAdjust="spacingAndGlyphs">0</text>
<text x="124.8" y="703.6" font-size="14.9" font-weight="bold" fill="#000" text-anchor="start" textLength="10.9" lengthAdjust="spacingAndGlyphs">1</text>
<text x="175.2" y="703.6" font-size="14.9" font-weight="bold" fill="#000" text-anchor="start" textLength="10.9" lengthAdjust="spacingAndGlyphs">2</text>
<text x="225.6" y="703.6" font-size="14.9" font-weight="bold" fill="#000" text-anchor="start" textLength="10.9" lengthAdjust="spacingAndGlyphs">3</text>
<text x="64.2" y="667.0" font-size="15.9" font-weight="bold" fill="#000" text-anchor="start" textLength="9.6" lengthAdjust="spacingAndGlyphs">1</text>
<text x="64.2" y="625.0" font-size="15.9" font-weight="bold" fill="#000" text-anchor="start" textLength="9.6" lengthAdjust="spacingAndGlyphs">2</text>
<text x="64.2" y="583.0" font-size="15.9" font-weight="bold" fill="#000" text-anchor="start" textLength="9.6" lengthAdjust="spacingAndGlyphs">3</text>
<text x="115.3" y="597.0" font-size="14.2" font-weight="bold" fill="#000" text-anchor="start" textLength="69.6" lengthAdjust="spacingAndGlyphs">1L-MoS<tspan font-size="9.2" dy="4.7">2</tspan></text>
<text x="152.6" y="668.7" font-size="14.5" font-weight="bold" fill="#000" text-anchor="start" textLength="64.8" lengthAdjust="spacingAndGlyphs">2L-MoS<tspan font-size="9.4" dy="4.8">2</tspan></text>
<text x="532.0" y="555.3" font-size="30.5" font-weight="normal" fill="#000">d</text>
<path d="M633.0,853.2 V847.2 M660.4,853.2 V849.7 M687.8,853.2 V847.2 M715.2,853.2 V849.7 M742.6,853.2 V847.2 M770.0,853.2 V849.7 M797.4,853.2 V847.2 M824.8,853.2 V849.7 M852.2,853.2 V847.2 M879.6,853.2 V849.7 M907.0,853.2 V847.2 M934.4,853.2 V849.7 M961.8,853.2 V847.2 M605.2,824.5 H611.2 M605.2,795.9 H608.7 M605.2,767.2 H611.2 M605.2,738.6 H608.7 M605.2,710.0 H611.2 M605.2,681.4 H608.7 M605.2,652.7 H611.2 M605.2,624.1 H608.7 M605.2,595.5 H611.2" stroke="#000" stroke-width="1.6" fill="none"/>
<circle cx="636.6" cy="801.4" r="4.6" fill="url(#sb)"/>
<circle cx="655.9" cy="812.7" r="4.6" fill="url(#sb)"/>
<circle cx="693.2" cy="795.5" r="4.6" fill="url(#sb)"/>
<circle cx="701.4" cy="815.6" r="4.6" fill="url(#sb)"/>
<circle cx="710.8" cy="794.3" r="4.6" fill="url(#sb)"/>
<circle cx="729.7" cy="805.7" r="4.6" fill="url(#sb)"/>
<circle cx="748.1" cy="781.4" r="4.6" fill="url(#sb)"/>
<circle cx="775.7" cy="785.4" r="4.6" fill="url(#sb)"/>
<circle cx="785.1" cy="768.9" r="4.6" fill="url(#sb)"/>
<circle cx="794.6" cy="763.2" r="4.6" fill="url(#sb)"/>
<circle cx="821.7" cy="758.5" r="4.6" fill="url(#sb)"/>
<circle cx="839.4" cy="785.4" r="4.6" fill="url(#sb)"/>
<circle cx="848.8" cy="787.3" r="4.6" fill="url(#sb)"/>
<circle cx="858.3" cy="779.0" r="4.6" fill="url(#sb)"/>
<circle cx="867.7" cy="796.7" r="4.6" fill="url(#sb)"/>
<circle cx="885.4" cy="772.6" r="4.6" fill="url(#sb)"/>
<circle cx="901.9" cy="787.3" r="4.6" fill="url(#sb)"/>
<circle cx="911.3" cy="793.9" r="4.6" fill="url(#sb)"/>
<circle cx="929.0" cy="788.4" r="4.6" fill="url(#sb)"/>
<circle cx="945.5" cy="795.5" r="4.6" fill="url(#sb)"/>
<circle cx="953.8" cy="791.5" r="4.6" fill="url(#sb)"/>
<circle cx="646.0" cy="803.3" r="4.6" fill="url(#sr)"/>
<circle cx="655.9" cy="819.8" r="4.6" fill="url(#sr)"/>
<circle cx="674.3" cy="799.1" r="4.6" fill="url(#sr)"/>
<circle cx="683.7" cy="784.9" r="4.6" fill="url(#sr)"/>
<circle cx="693.2" cy="787.7" r="4.6" fill="url(#sr)"/>
<circle cx="710.8" cy="776.7" r="4.6" fill="url(#sr)"/>
<circle cx="720.3" cy="782.5" r="4.6" fill="url(#sr)"/>
<circle cx="720.3" cy="800.2" r="4.6" fill="url(#sr)"/>
<circle cx="729.2" cy="796.2" r="4.6" fill="url(#sr)"/>
<circle cx="748.1" cy="773.6" r="4.6" fill="url(#sr)"/>
<circle cx="766.3" cy="781.4" r="4.6" fill="url(#sr)"/>
<circle cx="775.7" cy="779.7" r="4.6" fill="url(#sr)"/>
<circle cx="785.1" cy="761.8" r="4.6" fill="url(#sr)"/>
<circle cx="794.6" cy="756.1" r="4.6" fill="url(#sr)"/>
<circle cx="803.3" cy="765.6" r="4.6" fill="url(#sr)"/>
<circle cx="821.7" cy="766.5" r="4.6" fill="url(#sr)"/>
<circle cx="831.1" cy="773.1" r="4.6" fill="url(#sr)"/>
<circle cx="840.6" cy="777.4" r="4.6" fill="url(#sr)"/>
<circle cx="849.5" cy="777.4" r="4.6" fill="url(#sr)"/>
<circle cx="858.3" cy="781.4" r="4.6" fill="url(#sr)"/>
<circle cx="866.5" cy="814.4" r="4.6" fill="url(#sr)"/>
<circle cx="875.9" cy="797.2" r="4.6" fill="url(#sr)"/>
<circle cx="885.4" cy="781.4" r="4.6" fill="url(#sr)"/>
<circle cx="903.1" cy="781.4" r="4.6" fill="url(#sr)"/>
<circle cx="911.3" cy="781.4" r="4.6" fill="url(#sr)"/>
<circle cx="920.8" cy="785.4" r="4.6" fill="url(#sr)"/>
<circle cx="929.0" cy="800.9" r="4.6" fill="url(#sr)"/>
<circle cx="945.5" cy="808.5" r="4.6" fill="url(#sr)"/>
<circle cx="953.8" cy="805.7" r="4.6" fill="url(#sr)"/>
<path d="M638.5,802.7 L951.9,584.0" stroke="#ff0000" stroke-width="2.4"/>
<path d="M638.5,802.7 L949.7,651.0" stroke="#008000" stroke-width="2.4"/>
<path d="M635.2,796.7 L953.0,770.4" stroke="#000" stroke-width="2.4"/>
<path d="M635.2,801.9 L955.2,789.3" stroke="#8b0000" stroke-width="2.4"/>
<rect x="689.9" y="742.7" width="16" height="16" fill="#ff0000"/>
<rect x="755.4" y="714.4" width="16" height="16" fill="#ff0000"/>
<rect x="824.8" y="671.9" width="16" height="16" fill="#ff0000"/>
<rect x="886.1" y="614.4" width="16" height="16" fill="#ff0000"/>
<rect x="939.3" y="601.5" width="16" height="16" fill="#ff0000"/>
<path d="M646.0,778.0 L656.0,795.4 L636.0,795.4 Z" fill="#008000"/>
<path d="M700.2,758.0 L710.2,775.4 L690.2,775.4 Z" fill="#008000"/>
<path d="M765.1,735.6 L775.1,753.0 L755.1,753.0 Z" fill="#008000"/>
<path d="M830.0,697.9 L840.0,715.3 L820.0,715.3 Z" fill="#008000"/>
<path d="M896.3,660.9 L906.3,678.3 L886.3,678.3 Z" fill="#008000"/>
<path d="M947.3,661.7 L957.3,679.1 L937.3,679.1 Z" fill="#008000"/>
<rect x="605.2" y="567.4" width="385.0999999999999" height="285.80000000000007" fill="none" stroke="#000" stroke-width="2.2"/>
<text x="619.3" y="873.3" font-size="19.3" font-weight="bold" fill="#000" text-anchor="start" textLength="27.9" lengthAdjust="spacingAndGlyphs">0.0</text>
<text x="674.1" y="873.3" font-size="19.3" font-weight="bold" fill="#000" text-anchor="start" textLength="27.9" lengthAdjust="spacingAndGlyphs">0.5</text>
<text x="728.9" y="873.3" font-size="19.3" font-weight="bold" fill="#000" text-anchor="start" textLength="27.9" lengthAdjust="spacingAndGlyphs">1.0</text>
<text x="783.7" y="873.3" font-size="19.3" font-weight="bold" fill="#000" text-anchor="start" textLength="27.9" lengthAdjust="spacingAndGlyphs">1.5</text>
<text x="838.5" y="873.3" font-size="19.3" font-weight="bold" fill="#000" text-anchor="start" textLength="27.9" lengthAdjust="spacingAndGlyphs">2.0</text>
<text x="893.3" y="873.3" font-size="19.3" font-weight="bold" fill="#000" text-anchor="start" textLength="27.9" lengthAdjust="spacingAndGlyphs">2.5</text>
<text x="948.1" y="873.3" font-size="19.3" font-weight="bold" fill="#000" text-anchor="start" textLength="27.9" lengthAdjust="spacingAndGlyphs">3.0</text>
<text x="567.5" y="829.8" font-size="19.3" font-weight="bold" fill="#000" text-anchor="start" textLength="32.5" lengthAdjust="spacingAndGlyphs">800</text>
<text x="557.4" y="772.5" font-size="19.3" font-weight="bold" fill="#000" text-anchor="start" textLength="42.6" lengthAdjust="spacingAndGlyphs">1000</text>
<text x="557.4" y="715.3" font-size="19.3" font-weight="bold" fill="#000" text-anchor="start" textLength="42.6" lengthAdjust="spacingAndGlyphs">1200</text>
<text x="557.4" y="658.0" font-size="19.3" font-weight="bold" fill="#000" text-anchor="start" textLength="42.6" lengthAdjust="spacingAndGlyphs">1400</text>
<text x="557.4" y="600.8" font-size="19.3" font-weight="bold" fill="#000" text-anchor="start" textLength="42.6" lengthAdjust="spacingAndGlyphs">1600</text>
<text x="693.1" y="909.8" font-size="23.8" font-weight="bold" fill="#000" text-anchor="start" textLength="209.0" lengthAdjust="spacingAndGlyphs">Normal Force (μN)</text>
<g transform="translate(549.2,838.6) rotate(-90)">
<text x="-1.3" y="0.0" font-size="26.1" font-weight="bold" fill="#000" text-anchor="start" textLength="262.2" lengthAdjust="spacingAndGlyphs">Relative TR Signal (μV)</text>
</g>
<circle cx="631.3" cy="584.3" r="4.6" fill="url(#sb)"/>
<circle cx="631.3" cy="607.2" r="4.6" fill="url(#sr)"/>
<rect x="624.8" y="624.2" width="13" height="13" fill="#ff0000"/>
<path d="M631.3,645.2 L638.8,658.2 L623.8,658.2 Z" fill="#008000"/>
<text x="646.9" y="588.0" font-size="16.7" font-weight="bold" fill="#000" text-anchor="start" textLength="159.2" lengthAdjust="spacingAndGlyphs">MoS<tspan font-size="10.8" dy="5.5">2</tspan><tspan dy="-5.5"> (1L-0L) - Static</tspan></text>
<text x="646.9" y="610.9" font-size="16.7" font-weight="bold" fill="#000" text-anchor="start" textLength="159.2" lengthAdjust="spacingAndGlyphs">MoS<tspan font-size="10.8" dy="5.5">2</tspan><tspan dy="-5.5"> (2L-0L) - Static</tspan></text>
<text x="646.9" y="634.4" font-size="16.7" font-weight="bold" fill="#000" text-anchor="start" textLength="182.9" lengthAdjust="spacingAndGlyphs">MoS<tspan font-size="10.8" dy="5.5">2</tspan><tspan dy="-5.5"> (1L-0L) - Dynamic</tspan></text>
<text x="646.9" y="657.3" font-size="16.7" font-weight="bold" fill="#000" text-anchor="start" textLength="182.9" lengthAdjust="spacingAndGlyphs">MoS<tspan font-size="10.8" dy="5.5">2</tspan><tspan dy="-5.5"> (2L-0L) - Dynamic</tspan></text>
<text x="1094.7" y="556.7" font-size="33.5" font-weight="normal" fill="#000">f</text>
<g clip-path="url(#fclip)">
<rect x="1115.4" y="573.6" width="320.5999999999999" height="320.6" fill="#7a2668"/>
<g filter="url(#fblur)">
<path d="M1290,640 L1350,630 L1395,670 L1398,745 L1362,745 L1362,670 Z" fill="#8c3452"/>
<path d="M1362,745 L1398,745 L1400,820 L1380,880 L1290,900 L1250,880 L1330,850 L1362,800 Z" fill="#b0582e"/>
<path d="M1390,770 L1450,750 L1450,910 L1300,910 L1330,880 Z" fill="#b65e2c"/>
<path d="M1200,610 L1280,600 L1330,620 L1240,650 Z" fill="#923a4a"/>
<path d="M1100,850 L1170,860 L1200,910 L1100,910 Z" fill="#a04840"/>
<ellipse cx="1428" cy="640" rx="40" ry="75" fill="#4a1878"/>
<path d="M1100,650 L1150,640 L1230,660 L1150,700 L1100,760 Z" fill="#581c7a"/>
<path d="M1110,770 L1150,775 L1270,860 L1275,905 L1200,905 L1110,840 Z" fill="#541a78"/>
<path d="M1395,560 L1445,560 L1445,700 L1410,700 Z" fill="#4c1878"/>
</g>
<rect x="1115.4" y="573.6" width="320.5999999999999" height="320.6" filter="url(#fnz)" opacity="0.4"/>
<rect x="1115.4" y="573.6" width="320.5999999999999" height="320.6" filter="url(#fnz2)" opacity="0.35"/>
</g>
<path d="M1153,712 L1304,629.5 Q1318,626 1328,632 L1362,669 L1360,812 Q1358,842 1336,852 L1312,858 Q1302,860 1296,856 L1153,766 Z" fill="none" stroke="#b86a28" stroke-width="9" filter="url(#fblur2)" opacity="0.9"/>
<path d="M1153,712 L1304,629.5 Q1318,626 1328,632 L1362,669 L1360,812 Q1358,842 1336,852 L1312,858 Q1302,860 1296,856 L1153,766 Z" fill="#d6bc3c" stroke="#ead85c" stroke-width="2.6"/>
<g clip-path="url(#flclip)"><rect x="1150" y="625" width="215" height="236" filter="url(#fnz3)" opacity="0.45"/></g>
<path d="M1286.5,662.9 L1315.3,662.9 M1286.5,662.9 L1276.4,687.1 M1245.1,687.1 L1276.4,687.1 M1245.1,687.1 L1232.5,712.3 M1330.5,688.9 L1315.3,662.9 M1330.5,688.9 L1315.3,712.3 M1201.9,714.1 L1232.5,712.3 M1201.9,714.1 L1187.4,737.5 M1287.6,712.3 L1276.4,687.1 M1287.6,712.3 L1315.3,712.3 M1287.6,712.3 L1273.9,737.5 M1245.1,737.5 L1232.5,712.3 M1245.1,737.5 L1273.9,737.5 M1245.1,737.5 L1231.8,760.9 M1330.5,739.3 L1315.3,712.3 M1330.5,739.3 L1315.3,760.9 M1202.9,760.9 L1187.4,737.5 M1202.9,760.9 L1231.8,760.9 M1286.5,760.9 L1273.9,737.5 M1286.5,760.9 L1315.3,760.9 M1286.5,760.9 L1272.1,786.1 M1245.1,786.1 L1231.8,760.9 M1245.1,786.1 L1272.1,786.1 M1330.5,786.1 L1315.3,760.9 M1330.5,786.1 L1317.1,810.6 M1287.6,810.6 L1272.1,786.1 M1287.6,810.6 L1317.1,810.6" stroke="#5a5c26" stroke-width="1.8" opacity="0.85"/>
<path d="M1286.5,662.9 L1279.6,652.5 M1286.5,662.9 L1299.0,662.9 M1286.5,662.9 L1280.2,673.8 M1245.1,687.1 L1238.2,676.7 M1245.1,687.1 L1257.6,687.1 M1245.1,687.1 L1238.8,698.0 M1330.5,688.9 L1323.6,678.5 M1330.5,688.9 L1343.0,688.9 M1330.5,688.9 L1324.2,699.8 M1201.9,714.1 L1195.0,703.7 M1201.9,714.1 L1214.4,714.1 M1201.9,714.1 L1195.7,725.0 M1287.6,712.3 L1280.7,701.9 M1287.6,712.3 L1300.1,712.3 M1287.6,712.3 L1281.3,723.2 M1245.1,737.5 L1238.2,727.1 M1245.1,737.5 L1257.6,737.5 M1245.1,737.5 L1238.8,748.4 M1330.5,739.3 L1323.6,728.9 M1330.5,739.3 L1343.0,739.3 M1330.5,739.3 L1324.2,750.2 M1202.9,760.9 L1196.0,750.5 M1202.9,760.9 L1215.4,760.9 M1202.9,760.9 L1196.7,771.8 M1286.5,760.9 L1279.6,750.5 M1286.5,760.9 L1299.0,760.9 M1286.5,760.9 L1280.2,771.8 M1245.1,786.1 L1238.2,775.7 M1245.1,786.1 L1257.6,786.1 M1245.1,786.1 L1238.8,797.0 M1330.5,786.1 L1323.6,775.7 M1330.5,786.1 L1343.0,786.1 M1330.5,786.1 L1324.2,797.0 M1287.6,810.6 L1280.7,800.2 M1287.6,810.6 L1300.1,810.6 M1287.6,810.6 L1281.3,821.5" stroke="#3a8ea6" stroke-width="2.6" stroke-linecap="round"/>
<circle cx="1286.5" cy="662.9" r="8.4" fill="url(#ab)"/>
<circle cx="1245.1" cy="687.1" r="8.4" fill="url(#ab)"/>
<circle cx="1330.5" cy="688.9" r="8.4" fill="url(#ab)"/>
<circle cx="1201.9" cy="714.1" r="8.4" fill="url(#ab)"/>
<circle cx="1287.6" cy="712.3" r="8.4" fill="url(#ab)"/>
<circle cx="1245.1" cy="737.5" r="8.4" fill="url(#ab)"/>
<circle cx="1330.5" cy="739.3" r="8.4" fill="url(#ab)"/>
<circle cx="1202.9" cy="760.9" r="8.4" fill="url(#ab)"/>
<circle cx="1286.5" cy="760.9" r="8.4" fill="url(#ab)"/>
<circle cx="1245.1" cy="786.1" r="8.4" fill="url(#ab)"/>
<circle cx="1330.5" cy="786.1" r="8.4" fill="url(#ab)"/>
<circle cx="1287.6" cy="810.6" r="8.4" fill="url(#ab)"/>
<circle cx="1315.3" cy="662.9" r="7.9" fill="url(#ay)"/>
<circle cx="1276.4" cy="687.1" r="7.9" fill="url(#ay)"/>
<circle cx="1232.5" cy="712.3" r="7.9" fill="url(#ay)"/>
<circle cx="1315.3" cy="712.3" r="7.9" fill="url(#ay)"/>
<circle cx="1187.4" cy="737.5" r="7.9" fill="url(#ay)"/>
<circle cx="1273.9" cy="737.5" r="7.9" fill="url(#ay)"/>
<circle cx="1231.8" cy="760.9" r="7.9" fill="url(#ay)"/>
<circle cx="1315.3" cy="760.9" r="7.9" fill="url(#ay)"/>
<circle cx="1272.1" cy="786.1" r="7.9" fill="url(#ay)"/>
<circle cx="1317.1" cy="810.6" r="7.9" fill="url(#ay)"/>
<path d="M1268.5,736.6 V577" stroke="#fff" stroke-width="5.5" fill="none" stroke-linecap="butt" stroke-linejoin="miter"/>
<path d="M1258,612 L1268.5,578.5 L1281,612" stroke="#fff" stroke-width="5.5" fill="none" stroke-linecap="round" stroke-linejoin="miter"/>
<path d="M1265.8,733.9 H1430" stroke="#fff" stroke-width="5.5" fill="none" stroke-linecap="butt" stroke-linejoin="miter"/>
<path d="M1397.5,722 L1432,734 L1397.5,746.5" stroke="#fff" stroke-width="5.5" fill="none" stroke-linecap="round" stroke-linejoin="miter"/>
<path d="M1224.6,696 L1195,631" stroke="#fff" stroke-width="4.5" fill="none"/>
<path d="M1192.5,652 L1194.5,630.5 L1213,643" stroke="#fff" stroke-width="4.5" fill="none"/>
<text x="1290.2" y="603.2" font-size="22.8" font-weight="bold" fill="#fff" text-anchor="start" textLength="27.4" lengthAdjust="spacingAndGlyphs">ZZ</text>
<text x="1393.9" y="706.6" font-size="24.1" font-weight="bold" fill="#fff" text-anchor="start" textLength="33.4" lengthAdjust="spacingAndGlyphs">AC</text>
<text x="1127.4" y="608.3" font-size="21.4" font-weight="bold" fill="#fff" text-anchor="start" textLength="80.0" lengthAdjust="spacingAndGlyphs">1L-WS<tspan font-size="13.9" dy="7.1">2</tspan></text>
<text x="1146.5" y="844.5" font-size="24.2" font-weight="bold" fill="#fff" text-anchor="start" textLength="79.4" lengthAdjust="spacingAndGlyphs">SiO<tspan font-size="15.7" dy="8.0">2</tspan><tspan dy="-8.0">/Si</tspan></text>
<text x="1132.1" y="876.8" font-size="22.9" font-weight="bold" fill="#fff" text-anchor="start" textLength="108.7" lengthAdjust="spacingAndGlyphs">Substrate</text>
<text x="1368.0" y="869.6" font-size="18.3" font-weight="bold" fill="#fff" text-anchor="start" textLength="40.0" lengthAdjust="spacingAndGlyphs">5μm</text>
<rect x="1359.3" y="880.9" width="65.6" height="5.7" fill="#fff"/>
<text x="1263.4" y="560.6" font-size="28.6" font-weight="bold" fill="#000" text-anchor="start" textLength="33.0" lengthAdjust="spacingAndGlyphs">90</text>
<circle cx="1302" cy="543" r="3" fill="none" stroke="#000" stroke-width="1.6"/>
<text x="1457.1" y="737.8" font-size="28.6" font-weight="bold" fill="#000" text-anchor="start" textLength="18.3" lengthAdjust="spacingAndGlyphs">0</text>
<circle cx="1481.3" cy="719" r="3" fill="none" stroke="#000" stroke-width="1.6"/>
<text x="1487.7" y="555.6" font-size="32.0" font-weight="normal" fill="#000">g</text>
<text x="1554.7" y="595.4" font-size="22.0" font-weight="bold" fill="#000" text-anchor="start" textLength="260.8" lengthAdjust="spacingAndGlyphs">Orientation Dependency</text>
<circle cx="1690.1" cy="756.6" r="127.6" fill="#fff"/>
<circle cx="1690.1" cy="756.6" r="88" fill="none" stroke="#ececec" stroke-width="1.1" stroke-dasharray="3,2"/>
<circle cx="1690.1" cy="756.6" r="53" fill="none" stroke="#eeeeee" stroke-width="1.1" stroke-dasharray="3,2"/>
<path d="M1707.1,756.6 L1817.7,756.6 M1704.8,748.1 L1800.6,692.8 M1698.6,741.9 L1753.9,646.1 M1690.1,739.6 L1690.1,629.0 M1681.6,741.9 L1626.3,646.1 M1675.4,748.1 L1579.6,692.8 M1673.1,756.6 L1562.5,756.6 M1675.4,765.1 L1579.6,820.4 M1681.6,771.3 L1626.3,867.1 M1690.1,773.6 L1690.1,884.2 M1698.6,771.3 L1753.9,867.1 M1704.8,765.1 L1800.6,820.4" stroke="#cdcdcd" stroke-width="1.5"/>
<path d="M1812.7,756.6 L1817.7,756.6 M1796.3,695.3 L1800.6,692.8 M1751.4,650.4 L1753.9,646.1 M1690.1,634.0 L1690.1,629.0 M1628.8,650.4 L1626.3,646.1 M1583.9,695.3 L1579.6,692.8 M1567.5,756.6 L1562.5,756.6 M1583.9,817.9 L1579.6,820.4 M1628.8,862.8 L1626.3,867.1 M1690.1,879.2 L1690.1,884.2 M1751.4,862.8 L1753.9,867.1 M1796.3,817.9 L1800.6,820.4" stroke="#000" stroke-width="1.6"/>
<circle cx="1690.1" cy="756.6" r="127.6" fill="none" stroke="#000" stroke-width="2.6"/>
<circle cx="1690.1" cy="656.6" r="5.3" fill="url(#sg)"/>
<circle cx="1682.6" cy="668.6" r="5.3" fill="url(#sg)"/>
<circle cx="1696.1" cy="670.4" r="5.3" fill="url(#sg)"/>
<circle cx="1704.5" cy="673.4" r="5.3" fill="url(#sg)"/>
<circle cx="1676.6" cy="679.4" r="5.3" fill="url(#sg)"/>
<circle cx="1707.5" cy="689.0" r="5.3" fill="url(#sg)"/>
<circle cx="1674.5" cy="698.7" r="5.3" fill="url(#sg)"/>
<circle cx="1709.6" cy="700.5" r="5.3" fill="url(#sg)"/>
<circle cx="1715.6" cy="702.6" r="5.3" fill="url(#sg)"/>
<circle cx="1714.7" cy="712.5" r="5.3" fill="url(#sg)"/>
<circle cx="1729.1" cy="698.1" r="5.3" fill="url(#sg)"/>
<circle cx="1736.6" cy="699.6" r="5.3" fill="url(#sg)"/>
<circle cx="1736.0" cy="709.5" r="5.3" fill="url(#sg)"/>
<circle cx="1751.6" cy="703.5" r="5.3" fill="url(#sg)"/>
<circle cx="1753.1" cy="711.6" r="5.3" fill="url(#sg)"/>
<circle cx="1753.1" cy="719.1" r="5.3" fill="url(#sg)"/>
<circle cx="1750.7" cy="728.1" r="5.3" fill="url(#sg)"/>
<circle cx="1748.0" cy="740.1" r="5.3" fill="url(#sg)"/>
<circle cx="1743.5" cy="746.7" r="5.3" fill="url(#sg)"/>
<circle cx="1748.6" cy="756.6" r="5.3" fill="url(#sg)"/>
<circle cx="1669.1" cy="723.6" r="5.3" fill="url(#sg)"/>
<circle cx="1675.1" cy="725.1" r="5.3" fill="url(#sg)"/>
<circle cx="1678.7" cy="725.1" r="5.3" fill="url(#sg)"/>
<circle cx="1658.6" cy="713.1" r="5.3" fill="url(#sg)"/>
<circle cx="1654.1" cy="717.6" r="5.3" fill="url(#sg)"/>
<circle cx="1645.1" cy="720.6" r="5.3" fill="url(#sg)"/>
<circle cx="1638.5" cy="722.1" r="5.3" fill="url(#sg)"/>
<circle cx="1621.6" cy="716.7" r="5.3" fill="url(#sg)"/>
<circle cx="1631.6" cy="728.7" r="5.3" fill="url(#sg)"/>
<circle cx="1619.5" cy="731.1" r="5.3" fill="url(#sg)"/>
<circle cx="1624.0" cy="738.6" r="5.3" fill="url(#sg)"/>
<circle cx="1613.5" cy="742.5" r="5.3" fill="url(#sg)"/>
<circle cx="1623.4" cy="749.7" r="5.3" fill="url(#sg)"/>
<circle cx="1615.0" cy="756.6" r="5.3" fill="url(#sg)"/>
<circle cx="1628.6" cy="761.1" r="5.3" fill="url(#sg)"/>
<circle cx="1623.4" cy="767.1" r="5.3" fill="url(#sg)"/>
<circle cx="1634.6" cy="770.7" r="5.3" fill="url(#sg)"/>
<circle cx="1630.1" cy="783.6" r="5.3" fill="url(#sg)"/>
<circle cx="1624.6" cy="793.5" r="5.3" fill="url(#sg)"/>
<circle cx="1622.5" cy="802.5" r="5.3" fill="url(#sg)"/>
<circle cx="1619.5" cy="814.5" r="5.3" fill="url(#sg)"/>
<circle cx="1632.5" cy="811.5" r="5.3" fill="url(#sg)"/>
<circle cx="1636.7" cy="818.1" r="5.3" fill="url(#sg)"/>
<circle cx="1644.5" cy="818.1" r="5.3" fill="url(#sg)"/>
<circle cx="1651.1" cy="819.6" r="5.3" fill="url(#sg)"/>
<circle cx="1655.6" cy="827.1" r="5.3" fill="url(#sg)"/>
<circle cx="1662.5" cy="830.1" r="5.3" fill="url(#sg)"/>
<circle cx="1666.1" cy="842.8" r="5.3" fill="url(#sg)"/>
<circle cx="1673.6" cy="847.6" r="5.3" fill="url(#sg)"/>
<circle cx="1678.7" cy="870.7" r="5.3" fill="url(#sg)"/>
<circle cx="1690.1" cy="874.6" r="5.3" fill="url(#sg)"/>
<circle cx="1699.1" cy="866.2" r="5.3" fill="url(#sg)"/>
<circle cx="1707.5" cy="856.6" r="5.3" fill="url(#sg)"/>
<circle cx="1714.1" cy="846.7" r="5.3" fill="url(#sg)"/>
<circle cx="1713.5" cy="822.6" r="5.3" fill="url(#sg)"/>
<circle cx="1720.1" cy="823.5" r="5.3" fill="url(#sg)"/>
<circle cx="1726.1" cy="819.6" r="5.3" fill="url(#sg)"/>
<circle cx="1745.6" cy="823.5" r="5.3" fill="url(#sg)"/>
<circle cx="1758.5" cy="813.6" r="5.3" fill="url(#sg)"/>
<circle cx="1760.6" cy="827.1" r="5.3" fill="url(#sg)"/>
<circle cx="1777.2" cy="817.5" r="5.3" fill="url(#sg)"/>
<circle cx="1785.6" cy="810.6" r="5.3" fill="url(#sg)"/>
<circle cx="1779.6" cy="780.6" r="5.3" fill="url(#sg)"/>
<circle cx="1790.7" cy="792.6" r="5.3" fill="url(#sg)"/>
<circle cx="1767.5" cy="762.6" r="5.3" fill="url(#sg)"/>
<circle cx="1765.1" cy="770.1" r="5.3" fill="url(#sg)"/>
<text x="1677.3" y="624.9" font-size="19.7" font-weight="bold" fill="#1010ff" text-anchor="start" textLength="25.9" lengthAdjust="spacingAndGlyphs">ZZ</text>
<text x="1598.9" y="639.8" font-size="20.1" font-weight="bold" fill="#ff1010" text-anchor="start" textLength="29.8" lengthAdjust="spacingAndGlyphs">AC</text>
<text x="1751.7" y="639.8" font-size="20.1" font-weight="bold" fill="#ff1010" text-anchor="start" textLength="29.8" lengthAdjust="spacingAndGlyphs">AC</text>
<text x="1549.4" y="691.8" font-size="20.0" font-weight="bold" fill="#1010ff" text-anchor="start" textLength="25.8" lengthAdjust="spacingAndGlyphs">ZZ</text>
<text x="1804.2" y="691.8" font-size="20.0" font-weight="bold" fill="#1010ff" text-anchor="start" textLength="26.8" lengthAdjust="spacingAndGlyphs">ZZ</text>
<text x="1527.0" y="763.0" font-size="19.4" font-weight="bold" fill="#ff1010" text-anchor="start" textLength="30.3" lengthAdjust="spacingAndGlyphs">AC</text>
<text x="1821.2" y="763.0" font-size="19.4" font-weight="bold" fill="#ff1010" text-anchor="start" textLength="29.3" lengthAdjust="spacingAndGlyphs">AC</text>
<text x="1549.4" y="835.4" font-size="20.0" font-weight="bold" fill="#1010ff" text-anchor="start" textLength="25.8" lengthAdjust="spacingAndGlyphs">ZZ</text>
<text x="1804.2" y="835.4" font-size="20.0" font-weight="bold" fill="#1010ff" text-anchor="start" textLength="26.8" lengthAdjust="spacingAndGlyphs">ZZ</text>
<text x="1598.9" y="887.5" font-size="20.1" font-weight="bold" fill="#ff1010" text-anchor="start" textLength="29.8" lengthAdjust="spacingAndGlyphs">AC</text>
<text x="1751.7" y="887.5" font-size="20.1" font-weight="bold" fill="#ff1010" text-anchor="start" textLength="29.8" lengthAdjust="spacingAndGlyphs">AC</text>
<text x="1677.3" y="902.1" font-size="19.7" font-weight="bold" fill="#1010ff" text-anchor="start" textLength="25.9" lengthAdjust="spacingAndGlyphs">ZZ</text>
</svg>
</body></html>
